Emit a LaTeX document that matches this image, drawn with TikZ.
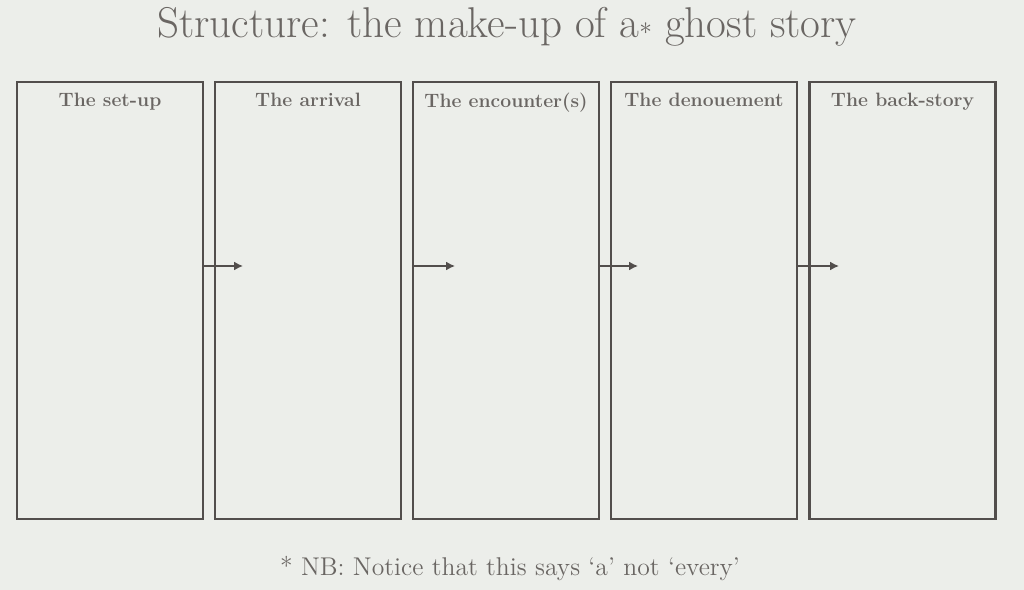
\documentclass[tikz,border=0pt]{standalone}
\usetikzlibrary{arrows.meta}
\definecolor{paper}{HTML}{ECEEEA}
\definecolor{ink}{HTML}{6A6663}
\definecolor{frame}{HTML}{524E4C}
\tikzset{
  stage/.style={draw=frame, line width=1.25pt, minimum width=3.72cm, minimum height=8.74cm, inner sep=0pt},
  head/.style={font=\bfseries\fontsize{11}{13}\selectfont, text=ink, anchor=north},
  flow/.style={draw=frame, line width=0.9pt, -{Latex[length=5pt,width=5pt]}}
}
\begin{document}
\begin{tikzpicture}[x=0.02cm, y=-0.02cm]
            \fill[paper] (0,0) rectangle (1024,590);
            \useasboundingbox (0,0) rectangle (1024,590);
            \node[text=ink, font=\fontsize{24.5}{28}\selectfont] (T) at (507,27){Structure: the make-up of a\raisebox{2pt}{\fontsize{14}{14}\selectfont$\ast$} ghost story};
            \node[stage] (A) at (110,300.5){};
            \node[stage] (B) at (308,300.5){};
            \node[stage] (C) at (506,300.5){};
            \node[stage] (D) at (704,300.5){};
            \node[stage] (E) at (902.5,300.5){};
            \node[head] (A0) at ([yshift=-0.12cm]A.north){The set-up};
            \node[head] (B0) at ([yshift=-0.12cm]B.north){The arrival};
            \node[head] (C0) at ([yshift=-0.12cm]C.north){The encounter(s)};
            \node[head] (D0) at ([yshift=-0.12cm]D.north){The denouement};
            \node[head] (E0) at ([yshift=-0.12cm]E.north){The back-story};
            \coordinate (a1) at (243,266);
            \coordinate (a2) at (455,266);
            \coordinate (a3) at (638,266);
            \coordinate (a4) at (839,266);
            \draw[flow] (A.east |- a1) -- (a1);
            \draw[flow] (C.west |- a2) -- (a2);
            \draw[flow] (C.east |- a3) -- (a3);
            \draw[flow] (D.east |- a4) -- (a4);
            \node[text=ink, font=\fontsize{14.6}{17}\selectfont] (N) at (510,568){* NB: Notice that this says `a' not `every'};
        \end{tikzpicture}
\end{document}
